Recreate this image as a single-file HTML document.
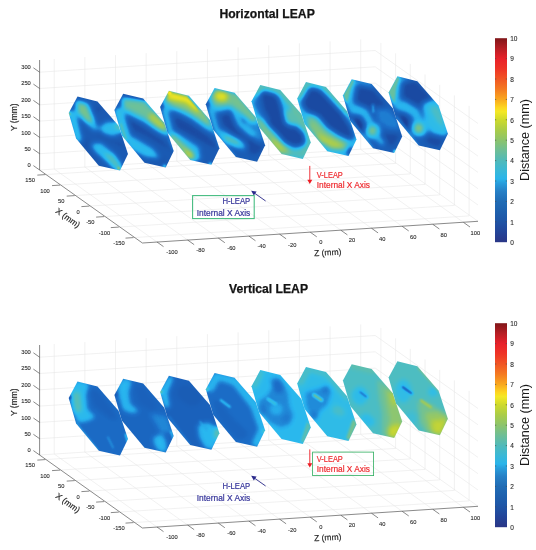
<!DOCTYPE html>
<html lang="en">
<head>
<meta charset="utf-8">
<title>Horizontal LEAP / Vertical LEAP</title>
<style>
html,body{margin:0;padding:0;background:#fff;}
body{width:536px;height:550px;overflow:hidden;font-family:"Liberation Sans",sans-serif;}
svg{display:block;}
svg text{font-family:"Liberation Sans",sans-serif;}
.g{stroke:#e5e5e5;stroke-width:0.55;fill:none;}
.a{stroke:#4a4a4a;stroke-width:0.65;fill:none;}
.tk text{font-size:5.75px;fill:#2a2a2a;stroke:#2a2a2a;stroke-width:0.1;}
.cbt text{font-size:6.5px;fill:#2a2a2a;stroke:#2a2a2a;stroke-width:0.1;}
.al{font-size:8.5px;fill:#222;stroke:#222;stroke-width:0.15;}
.ti{font-size:12px;font-weight:bold;fill:#141414;stroke:#141414;stroke-width:0.25;}
.an text{font-size:8.6px;stroke-width:0.2;}
.cl{font-size:12.7px;fill:#1a1a1a;}
</style>
</head>
<body>
<svg width="536" height="550" viewBox="0 0 536 550">
<defs>
<linearGradient id="cb" x1="0" y1="1" x2="0" y2="0"><stop offset="0" stop-color="#2a3686"/><stop offset="0.05" stop-color="#234498"/><stop offset="0.1" stop-color="#1f54a5"/><stop offset="0.15" stop-color="#1e60ad"/><stop offset="0.2" stop-color="#206cb5"/><stop offset="0.25" stop-color="#2680c6"/><stop offset="0.29" stop-color="#289edc"/><stop offset="0.31" stop-color="#2ab4ea"/><stop offset="0.35" stop-color="#3ab8d7"/><stop offset="0.4" stop-color="#50baba"/><stop offset="0.45" stop-color="#6ebe96"/><stop offset="0.5" stop-color="#8cc46c"/><stop offset="0.55" stop-color="#aacc48"/><stop offset="0.6" stop-color="#ceda2c"/><stop offset="0.64" stop-color="#f4e826"/><stop offset="0.66" stop-color="#fdd620"/><stop offset="0.7" stop-color="#f9a81e"/><stop offset="0.75" stop-color="#f47a21"/><stop offset="0.8" stop-color="#f15624"/><stop offset="0.85" stop-color="#ee3426"/><stop offset="0.9" stop-color="#e8212a"/><stop offset="0.95" stop-color="#b61e24"/><stop offset="1" stop-color="#801619"/></linearGradient>
<filter id="cm" x="-5%" y="-5%" width="110%" height="110%" color-interpolation-filters="sRGB"><feGaussianBlur stdDeviation="1"/><feComponentTransfer><feFuncR type="table" tableValues="0.118 0.115 0.112 0.109 0.106 0.105 0.105 0.104 0.103 0.103 0.102 0.102 0.102 0.102 0.102 0.102 0.102 0.104 0.106 0.108 0.110 0.115 0.120 0.125 0.129 0.136 0.142 0.149 0.153 0.157 0.161 0.172 0.182 0.193 0.204 0.225 0.246 0.267 0.288 0.308 0.329 0.354 0.378 0.402 0.427 0.451 0.477 0.503 0.529 0.555 0.580 0.607 0.634 0.660 0.687 0.714 0.739 0.764 0.789 0.814 0.839 0.866 0.893 0.919 0.946 0.973 0.974 0.976 0.977 0.979 0.980 0.977 0.974 0.971 0.968 0.965 0.962 0.960 0.958 0.955 0.953 0.949 0.946 0.942 0.939 0.935 0.932 0.928 0.925 0.921 0.918 0.880 0.842 0.805 0.767 0.729 0.692 0.654 0.616 0.579 0.541"/><feFuncG type="table" tableValues="0.176 0.191 0.206 0.221 0.235 0.254 0.272 0.290 0.308 0.327 0.345 0.353 0.361 0.369 0.376 0.384 0.392 0.404 0.416 0.427 0.439 0.467 0.494 0.522 0.549 0.586 0.622 0.659 0.680 0.701 0.722 0.727 0.733 0.739 0.745 0.745 0.745 0.745 0.745 0.745 0.745 0.748 0.751 0.755 0.758 0.761 0.765 0.770 0.775 0.780 0.784 0.791 0.797 0.803 0.809 0.816 0.825 0.835 0.844 0.853 0.863 0.871 0.878 0.886 0.894 0.902 0.872 0.842 0.813 0.783 0.753 0.716 0.679 0.642 0.605 0.569 0.543 0.517 0.491 0.465 0.439 0.409 0.380 0.350 0.320 0.290 0.260 0.231 0.201 0.171 0.141 0.136 0.130 0.125 0.119 0.114 0.108 0.103 0.097 0.092 0.086"/><feFuncB type="table" tableValues="0.502 0.522 0.541 0.561 0.580 0.599 0.617 0.635 0.654 0.672 0.690 0.699 0.708 0.718 0.727 0.736 0.745 0.757 0.769 0.780 0.792 0.808 0.824 0.839 0.855 0.876 0.897 0.918 0.925 0.933 0.941 0.927 0.914 0.900 0.886 0.860 0.834 0.808 0.782 0.756 0.729 0.698 0.667 0.635 0.604 0.573 0.540 0.507 0.474 0.441 0.408 0.376 0.345 0.314 0.282 0.251 0.234 0.216 0.199 0.182 0.165 0.158 0.152 0.146 0.140 0.133 0.135 0.136 0.138 0.140 0.141 0.146 0.151 0.155 0.160 0.165 0.163 0.162 0.160 0.158 0.157 0.156 0.156 0.156 0.155 0.155 0.155 0.154 0.154 0.153 0.153 0.147 0.142 0.136 0.131 0.125 0.120 0.115 0.109 0.104 0.098"/></feComponentTransfer></filter>
<filter id="bb" x="-5%" y="-5%" width="110%" height="110%" color-interpolation-filters="sRGB"><feMorphology operator="dilate" radius="1.2"/><feGaussianBlur stdDeviation="2.2"/></filter>
</defs>
<rect width="536" height="550" fill="#fff"/>
<g transform="translate(0,0)">
<g><line class="g" x1="45.3" y1="174.6" x2="380.9" y2="152.9"/><line class="g" x1="60" y1="185.1" x2="395.6" y2="163.4"/><line class="g" x1="74.7" y1="195.6" x2="410.3" y2="173.9"/><line class="g" x1="89.4" y1="206.1" x2="425" y2="184.4"/><line class="g" x1="104.1" y1="216.6" x2="439.7" y2="194.9"/><line class="g" x1="118.8" y1="227.1" x2="454.4" y2="205.4"/><line class="g" x1="133.5" y1="237.6" x2="469.1" y2="215.9"/><line class="g" x1="157" y1="242" x2="54.2" y2="169"/><line class="g" x1="187.65" y1="240.04" x2="84.85" y2="167.04"/><line class="g" x1="218.3" y1="238.08" x2="115.5" y2="165.08"/><line class="g" x1="248.95" y1="236.12" x2="146.15" y2="163.12"/><line class="g" x1="279.6" y1="234.16" x2="176.8" y2="161.16"/><line class="g" x1="310.25" y1="232.2" x2="207.45" y2="159.2"/><line class="g" x1="340.9" y1="230.24" x2="238.1" y2="157.24"/><line class="g" x1="371.55" y1="228.28" x2="268.75" y2="155.28"/><line class="g" x1="402.2" y1="226.32" x2="299.4" y2="153.32"/><line class="g" x1="432.85" y1="224.36" x2="330.05" y2="151.36"/><line class="g" x1="463.5" y1="222.4" x2="360.7" y2="149.4"/><line class="g" x1="54.2" y1="169" x2="54.2" y2="59"/><line class="g" x1="84.85" y1="167.04" x2="84.85" y2="57.04"/><line class="g" x1="115.5" y1="165.08" x2="115.5" y2="55.08"/><line class="g" x1="146.15" y1="163.12" x2="146.15" y2="53.12"/><line class="g" x1="176.8" y1="161.16" x2="176.8" y2="51.16"/><line class="g" x1="207.45" y1="159.2" x2="207.45" y2="49.2"/><line class="g" x1="238.1" y1="157.24" x2="238.1" y2="47.24"/><line class="g" x1="268.75" y1="155.28" x2="268.75" y2="45.28"/><line class="g" x1="299.4" y1="153.32" x2="299.4" y2="43.32"/><line class="g" x1="330.05" y1="151.36" x2="330.05" y2="41.36"/><line class="g" x1="360.7" y1="149.4" x2="360.7" y2="39.4"/><line class="g" x1="39.6" y1="153.7" x2="375.2" y2="132"/><line class="g" x1="39.6" y1="137.4" x2="375.2" y2="115.7"/><line class="g" x1="39.6" y1="121.1" x2="375.2" y2="99.4"/><line class="g" x1="39.6" y1="104.8" x2="375.2" y2="83.1"/><line class="g" x1="39.6" y1="88.5" x2="375.2" y2="66.8"/><line class="g" x1="39.6" y1="72.2" x2="375.2" y2="50.5"/><line class="g" x1="380.9" y1="152.9" x2="380.9" y2="42.9"/><line class="g" x1="395.6" y1="163.4" x2="395.6" y2="53.4"/><line class="g" x1="410.3" y1="173.9" x2="410.3" y2="63.9"/><line class="g" x1="425" y1="184.4" x2="425" y2="74.4"/><line class="g" x1="439.7" y1="194.9" x2="439.7" y2="84.9"/><line class="g" x1="454.4" y1="205.4" x2="454.4" y2="95.4"/><line class="g" x1="469.1" y1="215.9" x2="469.1" y2="105.9"/><line class="g" x1="375.2" y1="132" x2="478" y2="205"/><line class="g" x1="375.2" y1="115.7" x2="478" y2="188.7"/><line class="g" x1="375.2" y1="99.4" x2="478" y2="172.4"/><line class="g" x1="375.2" y1="83.1" x2="478" y2="156.1"/><line class="g" x1="375.2" y1="66.8" x2="478" y2="139.8"/><line class="g" x1="375.2" y1="50.5" x2="478" y2="123.5"/><line class="g" x1="39.6" y1="170" x2="375.2" y2="148.3"/><line class="g" x1="375.2" y1="148.3" x2="478" y2="221.3"/></g>
<g><line class="a" x1="39.6" y1="170" x2="39.6" y2="60"/><line class="a" x1="39.6" y1="170" x2="142.4" y2="243"/><line class="a" x1="142.4" y1="243" x2="478" y2="221.3"/><line class="a" x1="39.6" y1="170" x2="33.4" y2="165.6"/><line class="a" x1="39.6" y1="153.7" x2="33.4" y2="149.3"/><line class="a" x1="39.6" y1="137.4" x2="33.4" y2="133"/><line class="a" x1="39.6" y1="121.1" x2="33.4" y2="116.7"/><line class="a" x1="39.6" y1="104.8" x2="33.4" y2="100.4"/><line class="a" x1="39.6" y1="88.5" x2="33.4" y2="84.1"/><line class="a" x1="39.6" y1="72.2" x2="33.4" y2="67.8"/><line class="a" x1="45.3" y1="174.6" x2="37.32" y2="175.12"/><line class="a" x1="60" y1="185.1" x2="52.02" y2="185.62"/><line class="a" x1="74.7" y1="195.6" x2="66.72" y2="196.12"/><line class="a" x1="89.4" y1="206.1" x2="81.42" y2="206.62"/><line class="a" x1="104.1" y1="216.6" x2="96.12" y2="217.12"/><line class="a" x1="118.8" y1="227.1" x2="110.82" y2="227.62"/><line class="a" x1="133.5" y1="237.6" x2="125.52" y2="238.12"/><line class="a" x1="157" y1="242" x2="163.52" y2="246.63"/><line class="a" x1="187.65" y1="240.04" x2="194.17" y2="244.67"/><line class="a" x1="218.3" y1="238.08" x2="224.82" y2="242.71"/><line class="a" x1="248.95" y1="236.12" x2="255.47" y2="240.75"/><line class="a" x1="279.6" y1="234.16" x2="286.12" y2="238.79"/><line class="a" x1="310.25" y1="232.2" x2="316.77" y2="236.83"/><line class="a" x1="340.9" y1="230.24" x2="347.42" y2="234.87"/><line class="a" x1="371.55" y1="228.28" x2="378.07" y2="232.91"/><line class="a" x1="402.2" y1="226.32" x2="408.72" y2="230.95"/><line class="a" x1="432.85" y1="224.36" x2="439.37" y2="228.99"/><line class="a" x1="463.5" y1="222.4" x2="470.02" y2="227.03"/></g>
<g class="tk"><text x="30.8" y="167.3" text-anchor="end">0</text><text x="30.8" y="150.93" text-anchor="end">50</text><text x="30.8" y="134.56" text-anchor="end">100</text><text x="30.8" y="118.19" text-anchor="end">150</text><text x="30.8" y="101.82" text-anchor="end">200</text><text x="30.8" y="85.45" text-anchor="end">250</text><text x="30.8" y="69.08" text-anchor="end">300</text><text x="30.1" y="182.1" text-anchor="middle">150</text><text x="45" y="192.7" text-anchor="middle">100</text><text x="61.2" y="203.3" text-anchor="middle">50</text><text x="78" y="213.6" text-anchor="middle">0</text><text x="90.3" y="224.4" text-anchor="middle">-50</text><text x="104.4" y="234.9" text-anchor="middle">-100</text><text x="119" y="245.3" text-anchor="middle">-150</text><text x="172" y="254.1" text-anchor="middle">-100</text><text x="200.5" y="251.9" text-anchor="middle">-80</text><text x="231.4" y="250" text-anchor="middle">-60</text><text x="261.6" y="248.3" text-anchor="middle">-40</text><text x="292.2" y="246.6" text-anchor="middle">-20</text><text x="320.8" y="244.4" text-anchor="middle">0</text><text x="352" y="242.4" text-anchor="middle">20</text><text x="382.3" y="240.7" text-anchor="middle">40</text><text x="413.2" y="238.7" text-anchor="middle">60</text><text x="443.7" y="236.6" text-anchor="middle">80</text><text x="475.3" y="234.6" text-anchor="middle">100</text></g>
<text class="al" transform="translate(16.5,117.2) rotate(-90)" text-anchor="middle" textLength="27.6" lengthAdjust="spacingAndGlyphs">Y (mm)</text>
<text class="al" transform="translate(66.2,220.2) rotate(35.7)" text-anchor="middle" textLength="27.6" lengthAdjust="spacingAndGlyphs">X (mm)</text>
<text class="al" transform="translate(327.9,255.4) rotate(-3.7)" text-anchor="middle" textLength="27.4" lengthAdjust="spacingAndGlyphs">Z (mm)</text>
<text class="ti" x="219.4" y="17.9" textLength="95.4" lengthAdjust="spacingAndGlyphs">Horizontal LEAP</text>
<clipPath id="c0_0"><polygon points="77.5,96.6 97.5,101.5 118.6,125.7 128,154 120,170.5 98.8,165.7 76.1,138.5 68.7,112.9"/></clipPath>
<g clip-path="url(#c0_0)"><g filter="url(#cm)"><g filter="url(#bb)"><rect x="50.5" y="78.5" width="96" height="110" fill="#1d1d1d"/><ellipse cx="97.89" cy="109.33" rx="4.7" ry="4.7" fill="#131313"/><polygon points="80.33,127.65 92.55,131.01 102.01,140.18 112.4,143.69 126.91,152.09 123.09,142.16 107.82,136.51 97.13,129.95" fill="#131313"/><polygon points="81.85,136.82 92.55,141.4 102.01,161.25 97.43,164.61 78.49,141.4" fill="#151515"/><polygon points="76.05,101.08 87.66,104.44 95.29,123.84 98.35,130.4 93.31,128.88 86.44,122.16 76.97,112.69" fill="#4c4c4c"/><polygon points="77.58,102.61 85.83,105.36 92.55,122.16 87.66,120.63 78.8,111.16" fill="#757575"/><polygon points="68.41,111.16 74.52,112.08 81.55,141.4 76.36,140.79" fill="#545454"/><polygon points="100.49,127.04 107.82,122.16 121.26,123.68 123.4,131.01 112.4,135.6 103.24,132.54" fill="#4f4f4f"/><polygon points="114.69,123.38 121.87,123.99 123.09,130.4 118.51,128.42" fill="#6b6b6b"/><polygon points="91.48,144.45 100.18,143.54 114.23,155.15 121.26,166.6 116.22,169.2 106.29,160.03 95.6,151.48" fill="#4f4f4f"/><polygon points="104.76,153.62 112.4,156.37 121.26,167.36 115.45,167.82" fill="#666666"/></g><ellipse cx="68.72" cy="113.91" rx="1.83" ry="2.14" fill="#808080"/><ellipse cx="118.81" cy="168.59" rx="2.14" ry="2.14" fill="#808080"/></g></g>
<clipPath id="c0_1"><polygon points="123.2,93.7 143.2,98.6 164.3,122.8 173.7,151.1 165.7,167.6 144.5,162.8 121.8,135.6 114.4,110"/></clipPath>
<g clip-path="url(#c0_1)"><g filter="url(#cm)"><g filter="url(#bb)"><rect x="96.2" y="75.6" width="96" height="110" fill="#1d1d1d"/><polygon points="127.85,118.78 133.96,119.24 147.71,128.4 159.93,136.04 171.38,147.8 172.15,152.38 158.4,145.2 146.18,137.57 132.44,131.46 127.55,124.43" fill="#131313"/><polygon points="146.18,157.73 158.4,154.67 169.09,157.73 164.51,165.36 150.76,163.84" fill="#181818"/><polygon points="122.05,97.86 144.65,100.3 166.95,124.74 169.4,136.65 158.4,131.15 144.65,121.99 132.44,115.88 122.97,110.69" fill="#4c4c4c"/><polygon points="123.88,99.69 144.04,101.83 165.43,124.74 166.95,132.07 158.4,127.18 146.18,118.02 133.96,111.91 124.49,107.33" fill="#707070"/><polygon points="152.29,113.44 165.43,124.74 165.43,129.63 156.87,125.04 149.24,118.02" fill="#8a8a8a"/><polygon points="114.72,109.47 121.44,108.85 130.6,139.4 124.8,141.23 119.91,128.71" fill="#545454"/><polygon points="124.49,136.65 132.44,137.57 152.29,149.33 158.71,158.03 146.18,156.2 130.91,148.26" fill="#4f4f4f"/></g><line x1="123.27" y1="94.5" x2="144.65" y2="99.69" stroke="#1a1a1a" stroke-width="1.83" stroke-linecap="round"/><line x1="120.52" y1="124.43" x2="125.41" y2="139.09" stroke="#6b6b6b" stroke-width="2.44" stroke-linecap="round"/><ellipse cx="164.51" cy="166.13" rx="2.44" ry="2.44" fill="#4c4c4c"/><line x1="168.48" y1="139.4" x2="173.06" y2="150.09" stroke="#454545" stroke-width="1.53" stroke-linecap="round"/></g></g>
<clipPath id="c0_2"><polygon points="168.9,90.8 188.9,95.7 210,119.9 219.4,148.2 211.4,164.7 190.2,159.9 167.5,132.7 160.1,107.1"/></clipPath>
<g clip-path="url(#c0_2)"><g filter="url(#cm)"><g filter="url(#bb)"><rect x="141.9" y="72.7" width="96" height="110" fill="#1d1d1d"/><polygon points="170.04,118.38 179.2,116.24 193.71,124.49 207.45,133.65 218.15,145.87 218.91,150.91 207.45,146.33 192.18,137.16 176.91,129.99" fill="#121212"/><polygon points="162.86,103.11 169.27,91.19 190.65,96.69 212.34,122.04 215.4,133.65 205.93,128.76 192.18,118.38 176.91,110.74 164.39,109.21" fill="#4c4c4c"/><polygon points="165.3,99.75 169.27,91.8 190.04,97.3 206.23,115.02 210.81,126.01 199.82,118.38 187.6,110.74 173.85,105.55" fill="#7a7a7a"/><polygon points="167.44,94.86 169.88,92.11 190.04,97 199.82,108.91 197.07,109.83 186.84,101.58 169.27,97.91" fill="#a6a6a6"/><polygon points="162.25,110.44 167.13,108.91 173.85,136.4 169.27,137.32" fill="#4c4c4c"/><polygon points="168.36,133.35 175.38,132.58 198.6,147.85 200.12,159.61 189.13,160.38" fill="#4c4c4c"/><polygon points="168.66,136.4 172.63,135.79 192.49,152.89 194.32,159 188.82,159.31" fill="#7a7a7a"/><polygon points="183.78,150.15 191.42,154.12 192.79,157.48 187.6,156.25" fill="#8f8f8f"/></g><ellipse cx="169.27" cy="92.41" rx="1.99" ry="1.99" fill="#bababa"/><line x1="188.82" y1="96.39" x2="199.82" y2="108.91" stroke="#1a1a1a" stroke-width="1.37" stroke-linecap="round"/><ellipse cx="160.87" cy="106.62" rx="2.6" ry="2.6" fill="#212121"/><ellipse cx="210.2" cy="164.2" rx="2.44" ry="2.44" fill="#4c4c4c"/><line x1="212.95" y1="127.24" x2="219.37" y2="147.09" stroke="#474747" stroke-width="1.68" stroke-linecap="round"/></g></g>
<clipPath id="c0_3"><polygon points="214.6,87.9 234.6,92.8 255.7,117 265.1,145.3 257.1,161.8 235.9,157 213.2,129.8 205.8,104.2"/></clipPath>
<g clip-path="url(#c0_3)"><g filter="url(#cm)"><g filter="url(#bb)"><rect x="187.6" y="69.8" width="96" height="110" fill="#202020"/><polygon points="219.85,113.55 230.55,110.49 237.42,125.76 244.29,133.4 242.76,142.56 227.49,133.4 219.85,122.71" fill="#121212"/><polygon points="244.29,133.4 253.45,136.45 264.15,145.62 261.09,154.78 250.4,156.31 242.76,147.15" fill="#131313"/><polygon points="208.86,99.19 215.27,88.19 236.65,93.69 258.34,119.65 260.48,128.82 253.45,127.29 245.82,118.43 238.95,113.85 232.84,108.35 218.33,111.41 211.3,106.21" fill="#4c4c4c"/><polygon points="245.82,123.01 258.04,121.49 263.53,139.51 258.04,141.04 251.93,134.93" fill="#3b3b3b"/><polygon points="210.69,96.75 215.27,88.5 236.65,93.69 258.04,119.35 252.69,121.18 238.95,109.73 230.55,104.38 216.04,105.91" fill="#737373"/><ellipse cx="221.38" cy="96.44" rx="5.38" ry="3.7" fill="#9e9e9e" transform="rotate(10 221.38 96.44)"/><polygon points="208.25,108.2 212.52,106.67 219.24,131.87 215.27,132.18" fill="#4a4a4a"/><line x1="232.84" y1="107.44" x2="239.71" y2="123.47" stroke="#4f4f4f" stroke-width="3.51" stroke-linecap="round"/><line x1="239.71" y1="123.47" x2="252.69" y2="134.93" stroke="#4f4f4f" stroke-width="3.51" stroke-linecap="round"/><polygon points="214.97,130.04 222.91,130.96 244.6,144.09 245.36,148.98 236.65,147.45 219.85,139.81" fill="#4c4c4c"/><polygon points="224.44,135.69 238.18,141.04 239.1,144.4 225.96,139.81" fill="#6b6b6b"/></g><ellipse cx="206.87" cy="104.38" rx="2.44" ry="2.44" fill="#212121"/><line x1="216.8" y1="133.71" x2="236.04" y2="156.61" stroke="#3d3d3d" stroke-width="1.83" stroke-linecap="round"/></g></g>
<clipPath id="c0_4"><polygon points="260.3,85 280.3,89.9 301.4,114.1 310.8,142.4 302.8,158.9 281.6,154.1 258.9,126.9 251.5,101.3"/></clipPath>
<g clip-path="url(#c0_4)"><g filter="url(#cm)"><g filter="url(#bb)"><rect x="233.3" y="66.9" width="96" height="110" fill="#4f4f4f"/><polygon points="255.69,97.56 261.49,89.93 273.25,88.86 279.82,96.8 283.49,109.02 286.54,122.46 292.35,125.21 301.81,125.21 308.84,134.98 307.92,144.91 295.4,148.73 283.95,144.15 277.84,137.27 270.96,130.4 259.51,116.65 253.4,105.2" fill="#121212"/><polygon points="251.87,100.62 258.75,96.04 261.8,110.55 267.91,121.24 260.27,119.71 254.16,108.25" fill="#2e2e2e"/><polygon points="255.39,93.13 260.27,85.19 281.65,90.69 303.34,116.04 310.98,141.09 303.95,158.2 300.75,157.13 307.62,141.09 300.75,118.18 280.89,93.75 261.8,88.4 257.98,94.51" fill="#707070"/><polygon points="285.01,111.31 295.4,110.55 302.27,118.18 306.85,133.45 301.51,128.87 296.93,124.29 287,121.24" fill="#696969"/><polygon points="256.3,118.18 259.66,119.4 273.25,133.45 282.42,144.15 293.87,153.31 290.82,155.45 280.89,153.92 263.33,132.84" fill="#757575"/><polygon points="270.96,139.56 279.36,144.15 285.01,149.95 280.89,150.56 273.25,144.91" fill="#8a8a8a"/><polygon points="283.18,152.55 295.4,150.25 306.09,147.96 303.95,158.2 290.82,155.14" fill="#666666"/></g></g></g>
<clipPath id="c0_5"><polygon points="306,82.1 326,87 347.1,111.2 356.5,139.5 348.5,156 327.3,151.2 304.6,124 297.2,98.4"/></clipPath>
<g clip-path="url(#c0_5)"><g filter="url(#cm)"><g filter="url(#bb)"><rect x="279" y="64" width="96" height="110" fill="#4c4c4c"/><polygon points="300.47,99.91 303.98,90.75 310.09,85.4 320.78,87.69 330.71,98.38 342.93,111.36 352.85,126.64 355.91,138.09 349.04,141.15 336.82,135.8 326.13,128.16 317.73,117.47 306.27,112.89 301.69,107.55" fill="#121212"/><polygon points="297.41,97.77 306.27,82.19 327.65,87.69 349.34,112.13 347.2,114.42 328.42,93.04 321.55,87.69 309.02,84.94 301.08,98.38" fill="#6e6e6e"/><polygon points="306.88,115.95 313.91,117.01 325.36,129.69 336.82,136.87 347.81,142.67 346.29,149.09 333.76,149.09 321.55,141.45 309.33,127.71" fill="#6b6b6b"/><polygon points="309.33,121.29 315.44,122.82 326.89,135.8 342.93,144.2 344.45,148.17 332.24,148.17 320.02,140.53 310.09,127.71" fill="#787878"/><polygon points="316.96,134.27 326.13,138.09 339.87,144.2 342.16,147.25 332.24,146.64 320.78,140.38" fill="#8a8a8a"/><ellipse cx="350.56" cy="151.84" rx="5.04" ry="5.88" fill="#151515"/></g></g></g>
<clipPath id="c0_6"><polygon points="351.7,79.2 371.7,84.1 392.8,108.3 402.2,136.6 394.2,153.1 373,148.3 350.3,121.1 342.9,95.5"/></clipPath>
<g clip-path="url(#c0_6)"><g filter="url(#cm)"><g filter="url(#bb)"><rect x="324.7" y="61.1" width="96" height="110" fill="#222222"/><polygon points="353.49,84.69 371.36,85 383.58,99.2 389.69,110.65 375.18,108.36 369.07,110.65 356.85,106.07 352.27,93.85" fill="#121212"/><polygon points="351.51,114.47 360.67,116 366.78,125.93 363.27,135.85 355.02,129.75" fill="#0b0b0b"/><polygon points="381.29,132.04 398.09,132.04 401.91,136.62 395.04,147.31 382.82,145.78" fill="#131313"/><polygon points="346.16,103.02 352.27,80.11 373.65,85 372.43,86.22 356.09,82.86 351.97,103.02 349.22,108.36" fill="#4c4c4c"/><polygon points="348.3,104.55 356.85,105.31 366.02,109.13 373.04,122.87 374.57,129.29 369.84,127.76 362.96,115.24 350.75,112.49" fill="#4c4c4c"/><polygon points="376.71,109.13 387.4,109.13 398.09,121.35 399.62,128.98 387.4,127.45 378.24,119.82" fill="#383838"/><ellipse cx="372.89" cy="131.27" rx="7.56" ry="7.56" fill="#4c4c4c"/><ellipse cx="372.43" cy="130.81" rx="3.02" ry="3.7" fill="#787878"/><line x1="374.42" y1="135.09" x2="382.82" y2="142.73" stroke="#4c4c4c" stroke-width="3.16" stroke-linecap="round"/></g><polygon points="342.5,94.77 352.12,78.58 354.72,80.41 351.05,89.27 347.69,103.02 344.64,99.96" fill="#6e6e6e"/><line x1="372.89" y1="105.31" x2="373.35" y2="112.18" stroke="#4f4f4f" stroke-width="2.14" stroke-linecap="round"/><ellipse cx="395.04" cy="151.59" rx="2.14" ry="2.14" fill="#666666"/><line x1="350.75" y1="119.82" x2="372.89" y2="147.61" stroke="#474747" stroke-width="1.83" stroke-linecap="round"/></g></g>
<clipPath id="c0_7"><polygon points="397.4,76.3 417.4,81.2 438.5,105.4 447.9,133.7 439.9,150.2 418.7,145.4 396,118.2 388.6,92.6"/></clipPath>
<g clip-path="url(#c0_7)"><g filter="url(#cm)"><g filter="url(#bb)"><rect x="370.4" y="58.2" width="96" height="110" fill="#222222"/><polygon points="398.49,80.93 417.43,80.16 429.35,92.38 433.93,100.78 424.76,105.36 417.13,108.42 404.91,101.55 397.88,90.85" fill="#121212"/><polygon points="397.27,111.47 406.74,113.76 411.78,122.93 409.8,132.85 401.55,126.75" fill="#0b0b0b"/><polygon points="426.29,134.38 446.15,135.91 440.04,149.65 427.82,145.84 420.18,138.2" fill="#131313"/><polygon points="391.77,101.55 397.27,77.41 409.49,78.64 401.09,81.08 398.49,100.78 395.75,107.65" fill="#4c4c4c"/><polygon points="394.83,101.55 404.91,101.55 417.13,109.18 422.63,121.4 418.65,123.84 411.02,113.76 396.51,108.57" fill="#4c4c4c"/><polygon points="423.24,104.6 433.93,100.02 440.95,107.65 448.28,132.09 443.09,135.45 432.4,132.09 426.29,121.4" fill="#525252"/><polygon points="430.87,107.65 438.51,107.04 444.62,125.98 438.51,121.4" fill="#636363"/><ellipse cx="419.42" cy="128.27" rx="8.06" ry="8.06" fill="#4c4c4c"/><ellipse cx="418.65" cy="128.27" rx="3.36" ry="4.03" fill="#7a7a7a"/></g><polygon points="387.5,91.77 397.12,75.58 400.02,77.41 396.66,87.8 394.83,103.84 390.86,98.49" fill="#6e6e6e"/><line x1="396.51" y1="116.82" x2="417.89" y2="145.07" stroke="#474747" stroke-width="1.83" stroke-linecap="round"/></g></g>
<g class="an" fill="#35349a" stroke="#35349a"><text x="250.2" y="204.4" text-anchor="end" textLength="27.8" lengthAdjust="spacingAndGlyphs">H-LEAP</text><text x="250.2" y="215.6" text-anchor="end" textLength="53.4" lengthAdjust="spacingAndGlyphs">Internal X Axis</text></g>
<path d="M265.6 201 L253.4 192.4" stroke="#2b2a8c" stroke-width="0.9" fill="none"/><path d="M251.2 190.8 L256.6 191.6 L253.8 195.4 Z" fill="#2b2a8c"/>
<g class="an" fill="#ee2b30" stroke="#ee2b30" transform="translate(0,0)"><text x="316.8" y="177.7" textLength="26" lengthAdjust="spacingAndGlyphs">V-LEAP</text><text x="316.8" y="188.1" textLength="53.2" lengthAdjust="spacingAndGlyphs">Internal X Axis</text></g>
<g transform="translate(0,0)"><path d="M309.8 165.9 L309.8 181" stroke="#ed1c24" stroke-width="0.9" fill="none"/><path d="M309.8 184 L307.3 179.8 L312.3 179.8 Z" fill="#ed1c24"/></g>
<rect x="192.6" y="195.6" width="61.6" height="23" fill="none" stroke="#3fba7c" stroke-width="1.05"/>
<rect x="495" y="38.2" width="12" height="204" fill="url(#cb)"/>
<g class="cbt"><text x="510.2" y="245.25">0</text><text x="510.2" y="224.8">1</text><line class="a" x1="505.8" y1="221.8" x2="507" y2="221.8"/><line class="a" x1="495" y1="221.8" x2="496.2" y2="221.8"/><text x="510.2" y="204.35">2</text><line class="a" x1="505.8" y1="201.4" x2="507" y2="201.4"/><line class="a" x1="495" y1="201.4" x2="496.2" y2="201.4"/><text x="510.2" y="183.9">3</text><line class="a" x1="505.8" y1="181" x2="507" y2="181"/><line class="a" x1="495" y1="181" x2="496.2" y2="181"/><text x="510.2" y="163.45">4</text><line class="a" x1="505.8" y1="160.6" x2="507" y2="160.6"/><line class="a" x1="495" y1="160.6" x2="496.2" y2="160.6"/><text x="510.2" y="143">5</text><line class="a" x1="505.8" y1="140.2" x2="507" y2="140.2"/><line class="a" x1="495" y1="140.2" x2="496.2" y2="140.2"/><text x="510.2" y="122.55">6</text><line class="a" x1="505.8" y1="119.8" x2="507" y2="119.8"/><line class="a" x1="495" y1="119.8" x2="496.2" y2="119.8"/><text x="510.2" y="102.1">7</text><line class="a" x1="505.8" y1="99.4" x2="507" y2="99.4"/><line class="a" x1="495" y1="99.4" x2="496.2" y2="99.4"/><text x="510.2" y="81.65">8</text><line class="a" x1="505.8" y1="79" x2="507" y2="79"/><line class="a" x1="495" y1="79" x2="496.2" y2="79"/><text x="510.2" y="61.2">9</text><line class="a" x1="505.8" y1="58.6" x2="507" y2="58.6"/><line class="a" x1="495" y1="58.6" x2="496.2" y2="58.6"/><text x="510.2" y="40.75">10</text></g>
<text class="cl" transform="translate(529.3,140) rotate(-90)" text-anchor="middle" textLength="81.8" lengthAdjust="spacingAndGlyphs">Distance (mm)</text>
</g>
<g transform="translate(0,285)">
<g><line class="g" x1="45.3" y1="174.6" x2="380.9" y2="152.9"/><line class="g" x1="60" y1="185.1" x2="395.6" y2="163.4"/><line class="g" x1="74.7" y1="195.6" x2="410.3" y2="173.9"/><line class="g" x1="89.4" y1="206.1" x2="425" y2="184.4"/><line class="g" x1="104.1" y1="216.6" x2="439.7" y2="194.9"/><line class="g" x1="118.8" y1="227.1" x2="454.4" y2="205.4"/><line class="g" x1="133.5" y1="237.6" x2="469.1" y2="215.9"/><line class="g" x1="157" y1="242" x2="54.2" y2="169"/><line class="g" x1="187.65" y1="240.04" x2="84.85" y2="167.04"/><line class="g" x1="218.3" y1="238.08" x2="115.5" y2="165.08"/><line class="g" x1="248.95" y1="236.12" x2="146.15" y2="163.12"/><line class="g" x1="279.6" y1="234.16" x2="176.8" y2="161.16"/><line class="g" x1="310.25" y1="232.2" x2="207.45" y2="159.2"/><line class="g" x1="340.9" y1="230.24" x2="238.1" y2="157.24"/><line class="g" x1="371.55" y1="228.28" x2="268.75" y2="155.28"/><line class="g" x1="402.2" y1="226.32" x2="299.4" y2="153.32"/><line class="g" x1="432.85" y1="224.36" x2="330.05" y2="151.36"/><line class="g" x1="463.5" y1="222.4" x2="360.7" y2="149.4"/><line class="g" x1="54.2" y1="169" x2="54.2" y2="59"/><line class="g" x1="84.85" y1="167.04" x2="84.85" y2="57.04"/><line class="g" x1="115.5" y1="165.08" x2="115.5" y2="55.08"/><line class="g" x1="146.15" y1="163.12" x2="146.15" y2="53.12"/><line class="g" x1="176.8" y1="161.16" x2="176.8" y2="51.16"/><line class="g" x1="207.45" y1="159.2" x2="207.45" y2="49.2"/><line class="g" x1="238.1" y1="157.24" x2="238.1" y2="47.24"/><line class="g" x1="268.75" y1="155.28" x2="268.75" y2="45.28"/><line class="g" x1="299.4" y1="153.32" x2="299.4" y2="43.32"/><line class="g" x1="330.05" y1="151.36" x2="330.05" y2="41.36"/><line class="g" x1="360.7" y1="149.4" x2="360.7" y2="39.4"/><line class="g" x1="39.6" y1="153.7" x2="375.2" y2="132"/><line class="g" x1="39.6" y1="137.4" x2="375.2" y2="115.7"/><line class="g" x1="39.6" y1="121.1" x2="375.2" y2="99.4"/><line class="g" x1="39.6" y1="104.8" x2="375.2" y2="83.1"/><line class="g" x1="39.6" y1="88.5" x2="375.2" y2="66.8"/><line class="g" x1="39.6" y1="72.2" x2="375.2" y2="50.5"/><line class="g" x1="380.9" y1="152.9" x2="380.9" y2="42.9"/><line class="g" x1="395.6" y1="163.4" x2="395.6" y2="53.4"/><line class="g" x1="410.3" y1="173.9" x2="410.3" y2="63.9"/><line class="g" x1="425" y1="184.4" x2="425" y2="74.4"/><line class="g" x1="439.7" y1="194.9" x2="439.7" y2="84.9"/><line class="g" x1="454.4" y1="205.4" x2="454.4" y2="95.4"/><line class="g" x1="469.1" y1="215.9" x2="469.1" y2="105.9"/><line class="g" x1="375.2" y1="132" x2="478" y2="205"/><line class="g" x1="375.2" y1="115.7" x2="478" y2="188.7"/><line class="g" x1="375.2" y1="99.4" x2="478" y2="172.4"/><line class="g" x1="375.2" y1="83.1" x2="478" y2="156.1"/><line class="g" x1="375.2" y1="66.8" x2="478" y2="139.8"/><line class="g" x1="375.2" y1="50.5" x2="478" y2="123.5"/><line class="g" x1="39.6" y1="170" x2="375.2" y2="148.3"/><line class="g" x1="375.2" y1="148.3" x2="478" y2="221.3"/></g>
<g><line class="a" x1="39.6" y1="170" x2="39.6" y2="60"/><line class="a" x1="39.6" y1="170" x2="142.4" y2="243"/><line class="a" x1="142.4" y1="243" x2="478" y2="221.3"/><line class="a" x1="39.6" y1="170" x2="33.4" y2="165.6"/><line class="a" x1="39.6" y1="153.7" x2="33.4" y2="149.3"/><line class="a" x1="39.6" y1="137.4" x2="33.4" y2="133"/><line class="a" x1="39.6" y1="121.1" x2="33.4" y2="116.7"/><line class="a" x1="39.6" y1="104.8" x2="33.4" y2="100.4"/><line class="a" x1="39.6" y1="88.5" x2="33.4" y2="84.1"/><line class="a" x1="39.6" y1="72.2" x2="33.4" y2="67.8"/><line class="a" x1="45.3" y1="174.6" x2="37.32" y2="175.12"/><line class="a" x1="60" y1="185.1" x2="52.02" y2="185.62"/><line class="a" x1="74.7" y1="195.6" x2="66.72" y2="196.12"/><line class="a" x1="89.4" y1="206.1" x2="81.42" y2="206.62"/><line class="a" x1="104.1" y1="216.6" x2="96.12" y2="217.12"/><line class="a" x1="118.8" y1="227.1" x2="110.82" y2="227.62"/><line class="a" x1="133.5" y1="237.6" x2="125.52" y2="238.12"/><line class="a" x1="157" y1="242" x2="163.52" y2="246.63"/><line class="a" x1="187.65" y1="240.04" x2="194.17" y2="244.67"/><line class="a" x1="218.3" y1="238.08" x2="224.82" y2="242.71"/><line class="a" x1="248.95" y1="236.12" x2="255.47" y2="240.75"/><line class="a" x1="279.6" y1="234.16" x2="286.12" y2="238.79"/><line class="a" x1="310.25" y1="232.2" x2="316.77" y2="236.83"/><line class="a" x1="340.9" y1="230.24" x2="347.42" y2="234.87"/><line class="a" x1="371.55" y1="228.28" x2="378.07" y2="232.91"/><line class="a" x1="402.2" y1="226.32" x2="408.72" y2="230.95"/><line class="a" x1="432.85" y1="224.36" x2="439.37" y2="228.99"/><line class="a" x1="463.5" y1="222.4" x2="470.02" y2="227.03"/></g>
<g class="tk"><text x="30.8" y="167.3" text-anchor="end">0</text><text x="30.8" y="150.93" text-anchor="end">50</text><text x="30.8" y="134.56" text-anchor="end">100</text><text x="30.8" y="118.19" text-anchor="end">150</text><text x="30.8" y="101.82" text-anchor="end">200</text><text x="30.8" y="85.45" text-anchor="end">250</text><text x="30.8" y="69.08" text-anchor="end">300</text><text x="30.1" y="182.1" text-anchor="middle">150</text><text x="45" y="192.7" text-anchor="middle">100</text><text x="61.2" y="203.3" text-anchor="middle">50</text><text x="78" y="213.6" text-anchor="middle">0</text><text x="90.3" y="224.4" text-anchor="middle">-50</text><text x="104.4" y="234.9" text-anchor="middle">-100</text><text x="119" y="245.3" text-anchor="middle">-150</text><text x="172" y="254.1" text-anchor="middle">-100</text><text x="200.5" y="251.9" text-anchor="middle">-80</text><text x="231.4" y="250" text-anchor="middle">-60</text><text x="261.6" y="248.3" text-anchor="middle">-40</text><text x="292.2" y="246.6" text-anchor="middle">-20</text><text x="320.8" y="244.4" text-anchor="middle">0</text><text x="352" y="242.4" text-anchor="middle">20</text><text x="382.3" y="240.7" text-anchor="middle">40</text><text x="413.2" y="238.7" text-anchor="middle">60</text><text x="443.7" y="236.6" text-anchor="middle">80</text><text x="475.3" y="234.6" text-anchor="middle">100</text></g>
<text class="al" transform="translate(16.5,117.2) rotate(-90)" text-anchor="middle" textLength="27.6" lengthAdjust="spacingAndGlyphs">Y (mm)</text>
<text class="al" transform="translate(66.2,220.2) rotate(35.7)" text-anchor="middle" textLength="27.6" lengthAdjust="spacingAndGlyphs">X (mm)</text>
<text class="al" transform="translate(327.9,255.4) rotate(-3.7)" text-anchor="middle" textLength="27.4" lengthAdjust="spacingAndGlyphs">Z (mm)</text>
<text class="ti" x="229" y="8.2" textLength="79" lengthAdjust="spacingAndGlyphs">Vertical LEAP</text>
<clipPath id="c1_0"><polygon points="77.5,96.6 97.5,101.5 118.6,125.7 128,154 120,170.5 98.8,165.7 76.1,138.5 68.7,112.9"/></clipPath>
<g clip-path="url(#c1_0)"><g filter="url(#cm)"><g filter="url(#bb)"><rect x="50.5" y="78.5" width="96" height="110" fill="#2e2e2e"/><polygon points="87.96,104.75 98.65,103.22 112.4,121.55 120.04,136.82 107.82,133.76 92.55,121.55" fill="#262626"/><polygon points="71.47,104.75 77.27,96.5 87.96,99.25 84.91,109.33 86.44,125.36 94.07,132.24 85.67,135.6 78.49,136.51 73.3,121.55" fill="#4f4f4f"/><polygon points="72.69,108.56 78.8,107.49 80.63,125.36 75.44,127.04" fill="#696969"/></g><ellipse cx="69.18" cy="112.38" rx="2.14" ry="2.14" fill="#1a1a1a"/><line x1="76.51" y1="138.35" x2="97.89" y2="165.07" stroke="#474747" stroke-width="1.83" stroke-linecap="round"/><line x1="125.38" y1="149.04" x2="127.67" y2="156.67" stroke="#616161" stroke-width="1.53" stroke-linecap="round"/><line x1="107.82" y1="152.09" x2="113.16" y2="162.78" stroke="#404040" stroke-width="2.44" stroke-linecap="round"/></g></g>
<clipPath id="c1_1"><polygon points="123.2,93.7 143.2,98.6 164.3,122.8 173.7,151.1 165.7,167.6 144.5,162.8 121.8,135.6 114.4,110"/></clipPath>
<g clip-path="url(#c1_1)"><g filter="url(#cm)"><g filter="url(#bb)"><rect x="96.2" y="75.6" width="96" height="110" fill="#2b2b2b"/><polygon points="132.44,99.69 144.65,101.22 158.4,119.55 153.82,128.71 138.55,119.55" fill="#262626"/><polygon points="118.39,101.22 123.27,94.19 130.91,95.87 127.85,107.33 129.38,119.55 137.93,126.57 132.44,127.49 124.04,124.43 120.22,111.91" fill="#4c4c4c"/><polygon points="150.76,128.71 166.04,131.76 172.15,147.04 161.45,147.04" fill="#3b3b3b"/><polygon points="153.82,153.15 161.45,150.09 165.43,157.73 166.04,166.28 159.93,165.67 155.35,159.25" fill="#4c4c4c"/></g><line x1="170.92" y1="146.27" x2="173.67" y2="154.67" stroke="#666666" stroke-width="1.22" stroke-linecap="round"/><ellipse cx="115.18" cy="109.62" rx="2.14" ry="2.14" fill="#1c1c1c"/></g></g>
<clipPath id="c1_2"><polygon points="168.9,90.8 188.9,95.7 210,119.9 219.4,148.2 211.4,164.7 190.2,159.9 167.5,132.7 160.1,107.1"/></clipPath>
<g clip-path="url(#c1_2)"><g filter="url(#cm)"><g filter="url(#bb)"><rect x="141.9" y="72.7" width="96" height="110" fill="#262626"/><ellipse cx="189.13" cy="110.44" rx="14.28" ry="10.08" fill="#202020" transform="rotate(30 189.13 110.44)"/><polygon points="160.11,106.62 169.27,91.5 173.09,92.87 166.98,107.38 169.27,121.89 165.45,121.89" fill="#4c4c4c"/><polygon points="198.29,140.98 207.45,137.93 218.15,144.04 219.67,148.62 212.8,163.89 205.93,162.36 199.82,151.67" fill="#4c4c4c"/><ellipse cx="217.84" cy="148.62" rx="2.35" ry="5.04" fill="#707070"/></g><ellipse cx="160.72" cy="106.77" rx="1.99" ry="2.14" fill="#757575"/><line x1="199.82" y1="136.4" x2="206.69" y2="144.04" stroke="#474747" stroke-width="2.14" stroke-linecap="round"/><line x1="169.27" y1="131.82" x2="189.89" y2="159.61" stroke="#3d3d3d" stroke-width="1.83" stroke-linecap="round"/></g></g>
<clipPath id="c1_3"><polygon points="214.6,87.9 234.6,92.8 255.7,117 265.1,145.3 257.1,161.8 235.9,157 213.2,129.8 205.8,104.2"/></clipPath>
<g clip-path="url(#c1_3)"><g filter="url(#cm)"><g filter="url(#bb)"><rect x="187.6" y="69.8" width="96" height="110" fill="#303030"/><polygon points="210.69,113.55 219.85,115.07 235.13,133.4 250.4,147.15 245.82,154.78 235.13,154.78 216.8,133.4" fill="#292929"/><polygon points="206.11,103.62 215.27,88.5 236.65,93.69 258.04,118.89 265.98,144.09 258.95,161.2 252.69,159.36 259.87,144.09 251.93,121.95 233.91,99.04 218.33,94 211.91,105.91" fill="#4c4c4c"/></g><ellipse cx="206.72" cy="103.92" rx="1.99" ry="1.99" fill="#6b6b6b"/><line x1="220.62" y1="115.07" x2="229.78" y2="121.95" stroke="#545454" stroke-width="2.29" stroke-linecap="round"/><ellipse cx="264.15" cy="146.38" rx="2.14" ry="2.14" fill="#636363"/></g></g>
<clipPath id="c1_4"><polygon points="260.3,85 280.3,89.9 301.4,114.1 310.8,142.4 302.8,158.9 281.6,154.1 258.9,126.9 251.5,101.3"/></clipPath>
<g clip-path="url(#c1_4)"><g filter="url(#cm)"><g filter="url(#bb)"><rect x="233.3" y="66.9" width="96" height="110" fill="#4e4e4e"/><polygon points="267.91,92.22 281.65,93.75 289.29,105.96 290.82,119.71 295.4,130.4 290.82,141.09 280.13,144.15 267.91,138.04 258.75,125.82 257.98,113.6 264.85,110.55 270.96,101.38" fill="#3b3b3b"/><ellipse cx="277.84" cy="100.62" rx="6.38" ry="9.24" fill="#303030" transform="rotate(-20 277.84 100.62)"/><ellipse cx="261.8" cy="124.29" rx="4.03" ry="7.56" fill="#333333" transform="rotate(-15 261.8 124.29)"/><ellipse cx="276.31" cy="124.29" rx="5.38" ry="4.7" fill="#474747"/><ellipse cx="286.24" cy="133.45" rx="5.88" ry="5.04" fill="#363636"/><polygon points="251.11,100.62 260.27,85.5 263.33,86.41 255.69,102.91" fill="#616161"/></g><line x1="267.91" y1="113.91" x2="275.55" y2="118.95" stroke="#696969" stroke-width="1.83" stroke-linecap="round"/><polygon points="306.85,136.51 310.98,141.09 303.95,158.2 300.75,156.36" fill="#696969"/></g></g>
<clipPath id="c1_5"><polygon points="306,82.1 326,87 347.1,111.2 356.5,139.5 348.5,156 327.3,151.2 304.6,124 297.2,98.4"/></clipPath>
<g clip-path="url(#c1_5)"><g filter="url(#cm)"><g filter="url(#bb)"><rect x="279" y="64" width="96" height="110" fill="#535353"/><polygon points="303.22,106.02 313.91,102.96 329.18,98.38 333.76,107.55 329.18,121.29 321.55,127.4 316.96,138.09 309.33,135.04 303.98,121.29" fill="#3d3d3d"/><ellipse cx="325.36" cy="104.49" rx="5.04" ry="4.7" fill="#333333"/><ellipse cx="313.91" cy="130.76" rx="5.04" ry="5.04" fill="#333333"/><polygon points="297.11,97.62 306.27,82.5 327.65,87.69 349.04,112.43 346.75,114.42 326.43,90.44 309.02,85.86 301.39,99.91" fill="#636363"/><ellipse cx="338.35" cy="125.87" rx="5.88" ry="3.36" fill="#616161" transform="rotate(30 338.35 125.87)"/></g><line x1="313.91" y1="109.84" x2="321.55" y2="115.18" stroke="#878787" stroke-width="2.14" stroke-linecap="round"/><polygon points="352.85,133.51 356.98,138.09 349.95,155.2 345.98,153.36" fill="#737373"/></g></g>
<clipPath id="c1_6"><polygon points="351.7,79.2 371.7,84.1 392.8,108.3 402.2,136.6 394.2,153.1 373,148.3 350.3,121.1 342.9,95.5"/></clipPath>
<g clip-path="url(#c1_6)"><g filter="url(#cm)"><g filter="url(#bb)"><rect x="324.7" y="61.1" width="96" height="110" fill="#626262"/><ellipse cx="359.91" cy="110.65" rx="9.24" ry="10.08" fill="#525252"/><ellipse cx="367.55" cy="135.09" rx="9.24" ry="6.72" fill="#525252" transform="rotate(30 367.55 135.09)"/><polygon points="378.24,95.38 395.04,109.89 402.98,135.09 395.95,152.2 382.82,150.36 382.82,127.45 379.76,112.18" fill="#707070"/><polygon points="385.87,103.02 395.04,109.89 402.98,135.09 395.95,152.2 388.93,151.13 390.45,132.04 387.4,116.76" fill="#7d7d7d"/><polygon points="390.45,106.84 395.34,110.2 398.09,119.82 393.51,118.29" fill="#8c8c8c"/><polygon points="389.69,142.73 401.15,139.67 395.95,152.2 388.93,151.13" fill="#949494"/><line x1="352.27" y1="80.41" x2="373.65" y2="85.91" stroke="#6b6b6b" stroke-width="3.51" stroke-linecap="round"/></g><line x1="359.91" y1="106.84" x2="366.78" y2="112.18" stroke="#262626" stroke-width="1.68" stroke-linecap="round"/></g></g>
<clipPath id="c1_7"><polygon points="397.4,76.3 417.4,81.2 438.5,105.4 447.9,133.7 439.9,150.2 418.7,145.4 396,118.2 388.6,92.6"/></clipPath>
<g clip-path="url(#c1_7)"><g filter="url(#cm)"><g filter="url(#bb)"><rect x="370.4" y="58.2" width="96" height="110" fill="#636363"/><ellipse cx="403.38" cy="106.13" rx="9.24" ry="12.6" fill="#545454"/><ellipse cx="411.02" cy="133.62" rx="8.4" ry="8.4" fill="#5c5c5c"/><ellipse cx="433.16" cy="106.89" rx="5.88" ry="5.88" fill="#525252"/><polygon points="418.65,116.82 432.4,121.4 447.98,132.09 440.95,149.2 427.82,147.36 420.18,135.15" fill="#737373"/><polygon points="426.29,129.04 436.98,127.51 447.98,132.09 440.95,149.2 430.87,147.36" fill="#808080"/><polygon points="432.4,136.67 446.15,135.15 440.95,149.2 434.69,148.13" fill="#919191"/></g><line x1="402.62" y1="102" x2="411.78" y2="108.42" stroke="#191919" stroke-width="1.83" stroke-linecap="round"/><line x1="420.95" y1="115.29" x2="430.87" y2="122.16" stroke="#8f8f8f" stroke-width="2.14" stroke-linecap="round"/><line x1="418.65" y1="82.91" x2="439.27" y2="105.82" stroke="#737373" stroke-width="2.44" stroke-linecap="round"/></g></g>
<g class="an" fill="#35349a" stroke="#35349a"><text x="250.2" y="204.4" text-anchor="end" textLength="27.8" lengthAdjust="spacingAndGlyphs">H-LEAP</text><text x="250.2" y="215.6" text-anchor="end" textLength="53.4" lengthAdjust="spacingAndGlyphs">Internal X Axis</text></g>
<path d="M265.6 201 L253.4 192.4" stroke="#2b2a8c" stroke-width="0.9" fill="none"/><path d="M251.2 190.8 L256.6 191.6 L253.8 195.4 Z" fill="#2b2a8c"/>
<g class="an" fill="#ee2b30" stroke="#ee2b30" transform="translate(0,-0.8)"><text x="316.8" y="177.7" textLength="26" lengthAdjust="spacingAndGlyphs">V-LEAP</text><text x="316.8" y="188.1" textLength="53.2" lengthAdjust="spacingAndGlyphs">Internal X Axis</text></g>
<g transform="translate(0,-1.5)"><path d="M309.8 165.9 L309.8 181" stroke="#ed1c24" stroke-width="0.9" fill="none"/><path d="M309.8 184 L307.3 179.8 L312.3 179.8 Z" fill="#ed1c24"/></g>
<rect x="312.6" y="167.1" width="61" height="23.5" fill="none" stroke="#2fae5f" stroke-width="0.8"/>
<rect x="495" y="38.2" width="12" height="204" fill="url(#cb)"/>
<g class="cbt"><text x="510.2" y="245.25">0</text><text x="510.2" y="224.8">1</text><line class="a" x1="505.8" y1="221.8" x2="507" y2="221.8"/><line class="a" x1="495" y1="221.8" x2="496.2" y2="221.8"/><text x="510.2" y="204.35">2</text><line class="a" x1="505.8" y1="201.4" x2="507" y2="201.4"/><line class="a" x1="495" y1="201.4" x2="496.2" y2="201.4"/><text x="510.2" y="183.9">3</text><line class="a" x1="505.8" y1="181" x2="507" y2="181"/><line class="a" x1="495" y1="181" x2="496.2" y2="181"/><text x="510.2" y="163.45">4</text><line class="a" x1="505.8" y1="160.6" x2="507" y2="160.6"/><line class="a" x1="495" y1="160.6" x2="496.2" y2="160.6"/><text x="510.2" y="143">5</text><line class="a" x1="505.8" y1="140.2" x2="507" y2="140.2"/><line class="a" x1="495" y1="140.2" x2="496.2" y2="140.2"/><text x="510.2" y="122.55">6</text><line class="a" x1="505.8" y1="119.8" x2="507" y2="119.8"/><line class="a" x1="495" y1="119.8" x2="496.2" y2="119.8"/><text x="510.2" y="102.1">7</text><line class="a" x1="505.8" y1="99.4" x2="507" y2="99.4"/><line class="a" x1="495" y1="99.4" x2="496.2" y2="99.4"/><text x="510.2" y="81.65">8</text><line class="a" x1="505.8" y1="79" x2="507" y2="79"/><line class="a" x1="495" y1="79" x2="496.2" y2="79"/><text x="510.2" y="61.2">9</text><line class="a" x1="505.8" y1="58.6" x2="507" y2="58.6"/><line class="a" x1="495" y1="58.6" x2="496.2" y2="58.6"/><text x="510.2" y="40.75">10</text></g>
<text class="cl" transform="translate(529.3,140) rotate(-90)" text-anchor="middle" textLength="81.8" lengthAdjust="spacingAndGlyphs">Distance (mm)</text>
</g>
</svg>
</body>
</html>
